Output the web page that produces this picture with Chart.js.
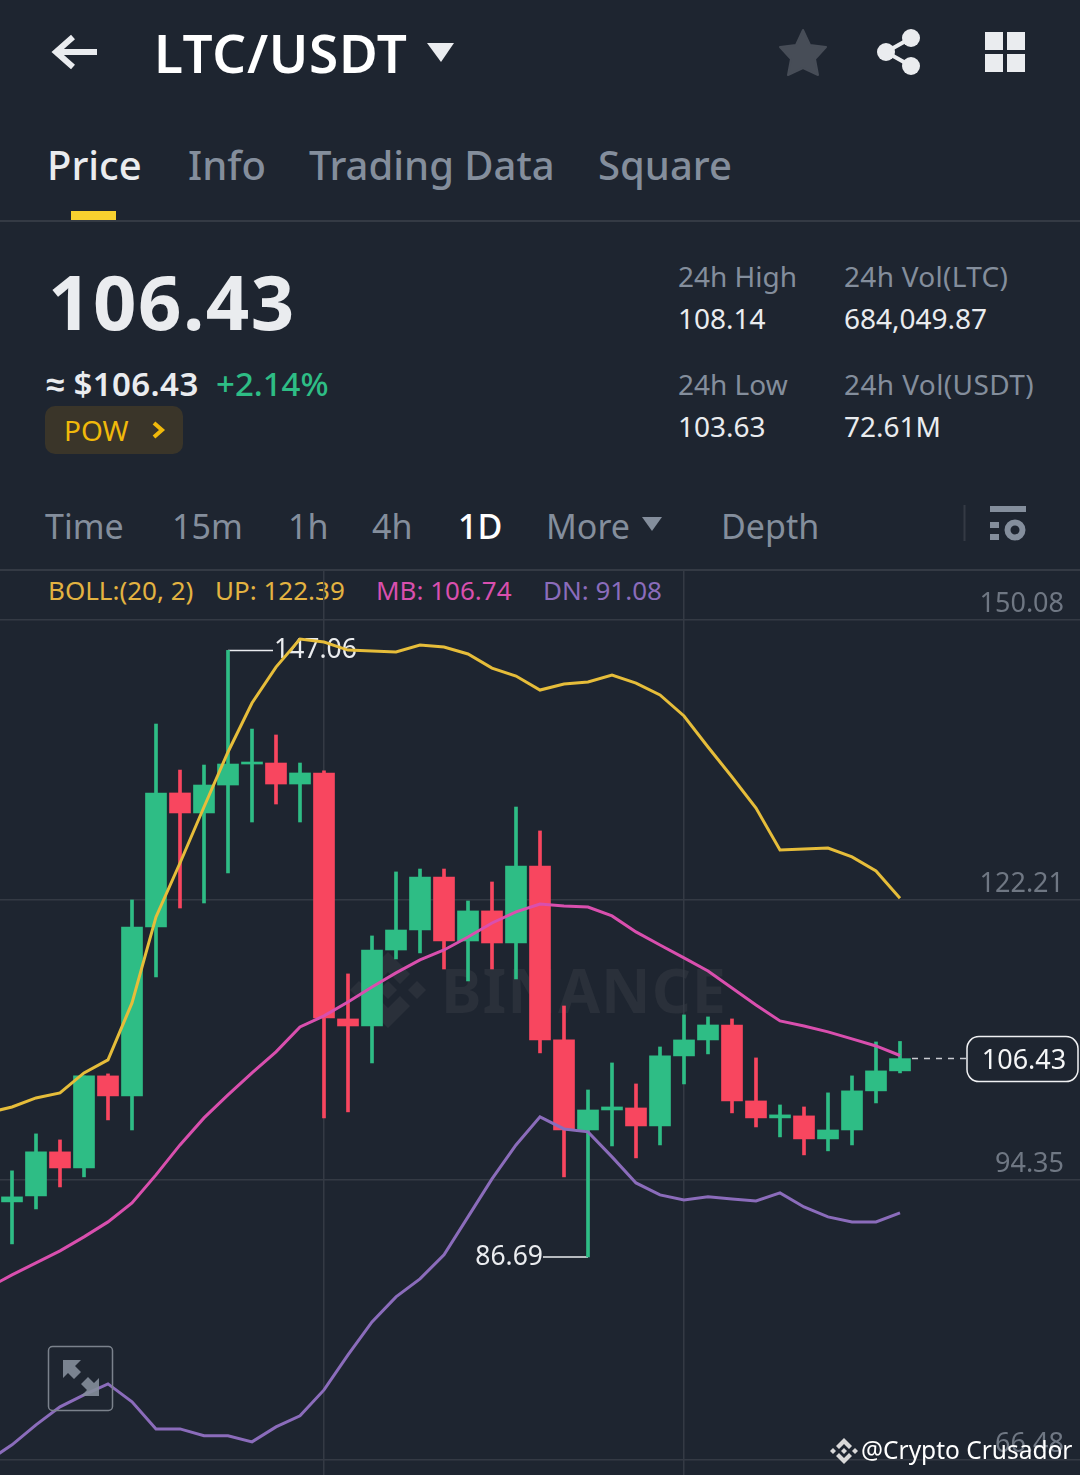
<!DOCTYPE html>
<html>
<head>
<meta charset="utf-8">
<script src="https://cdn.jsdelivr.net/npm/chart.js@4/dist/chart.umd.min.js"></script>
<style>
  html, body { margin: 0; padding: 0; background: #1e2530; }
  #page { position: relative; width: 1080px; height: 1475px; overflow: hidden; background: #1e2530; font-family: "Noto Sans", sans-serif; }
  .t { position: absolute; line-height: 1; white-space: nowrap; transform: translateY(-50%); }
  .rule { position: absolute; background: #343a44; }
  canvas { position: absolute; left: 0; top: 570px; z-index: 1; }
  svg { position: absolute; overflow: visible; }
  .over { z-index: 2; }
  .grey { color: #848e9c; }
  .light { color: #eaecef; }
</style>
</head>
<body>
<div id="page">
  <!-- top bar -->
  <svg style="left:0;top:0" width="1080" height="120">
    <path d="M97 52H58M73 37L56 52L73 67" fill="none" stroke="#eaecef" stroke-width="6"/>
    <path d="M427 43H454L441 62Z" fill="#eaecef"/>
    <path d="M803 30L810 45L826 47L815 59L818 75L803 68L788 75L791 59L780 47L796 45Z" fill="#474d57" stroke="#474d57" stroke-width="2" stroke-linejoin="round"/>
    <g fill="#eaecef"><circle cx="911" cy="38" r="9"/><circle cx="886" cy="52" r="9"/><circle cx="911" cy="66" r="9"/></g>
    <path d="M911 38L886 52L911 66" fill="none" stroke="#eaecef" stroke-width="4"/>
    <g fill="#eaecef"><rect x="985" y="32" width="18" height="18"/><rect x="1007" y="32" width="18" height="18"/><rect x="985" y="54" width="18" height="18"/><rect x="1007" y="54" width="18" height="18"/></g>
  </svg>
  <div class="t" style="left:154px;top:52px;font-size:53px;font-weight:600;letter-spacing:0.7px;color:#fff">LTC/USDT</div>

  <!-- tabs -->
  <div class="t light" style="left:47px;top:165px;font-size:40px;font-weight:500">Price</div>
  <div class="t grey" style="left:188px;top:165px;font-size:40px;font-weight:500">Info</div>
  <div class="t grey" style="left:309px;top:165px;font-size:40px;font-weight:500">Trading Data</div>
  <div class="t grey" style="left:598px;top:165px;font-size:40px;font-weight:500">Square</div>
  <div style="position:absolute;left:71px;top:211px;width:45px;height:9px;background:#f8d12f"></div>
  <div class="rule" style="left:0;top:220px;width:1080px;height:2px"></div>

  <!-- price block -->
  <div class="t light" style="left:48px;top:301px;font-size:76px;font-weight:700;letter-spacing:1.5px">106.43</div>
  <div class="t light" style="left:46px;top:383px;font-size:33px;font-weight:600;letter-spacing:0.4px">≈ $106.43</div>
  <div class="t" style="left:216px;top:383px;font-size:33px;font-weight:500;color:#2ebd85">+2.14%</div>
  <div style="position:absolute;left:45px;top:406px;width:138px;height:48px;border-radius:10px;background:#3a3529"></div>
  <div class="t" style="left:64px;top:430px;font-size:28px;color:#f0b90b">POW</div>
  <svg style="left:0;top:0" width="10" height="10"><path d="M154 423L162 430L154 437" fill="none" stroke="#f0b90b" stroke-width="4"/></svg>

  <div class="t grey" style="left:678px;top:276px;font-size:28px">24h High</div>
  <div class="t light" style="left:678px;top:318px;font-size:28px">108.14</div>
  <div class="t grey" style="left:844px;top:276px;font-size:28px;letter-spacing:0.3px">24h Vol(LTC)</div>
  <div class="t light" style="left:844px;top:318px;font-size:28px">684,049.87</div>
  <div class="t grey" style="left:678px;top:384px;font-size:28px">24h Low</div>
  <div class="t light" style="left:678px;top:426px;font-size:28px">103.63</div>
  <div class="t grey" style="left:844px;top:384px;font-size:28px;letter-spacing:0.4px">24h Vol(USDT)</div>
  <div class="t light" style="left:844px;top:426px;font-size:28px">72.61M</div>

  <!-- interval row -->
  <div class="t grey" style="left:45px;top:526px;font-size:34px">Time</div>
  <div class="t grey" style="left:172px;top:526px;font-size:34px">15m</div>
  <div class="t grey" style="left:288px;top:526px;font-size:34px">1h</div>
  <div class="t grey" style="left:372px;top:526px;font-size:34px">4h</div>
  <div class="t" style="left:458px;top:526px;font-size:34px;font-weight:500;color:#fff">1D</div>
  <div class="t grey" style="left:546px;top:526px;font-size:34px">More</div>
  <div class="t grey" style="left:721px;top:526px;font-size:34px">Depth</div>
  <svg style="left:0;top:0" width="10" height="10">
    <path d="M642 517H662L652 531Z" fill="#848e9c"/>
    <path d="M964.5 505V541" stroke="#343a44" stroke-width="2"/>
    <g fill="#848e9c"><rect x="990" y="506" width="36" height="6"/><rect x="990" y="522" width="9" height="6"/><rect x="990" y="534" width="9" height="6"/></g>
    <circle cx="1015" cy="530" r="7.5" fill="none" stroke="#848e9c" stroke-width="6"/>
  </svg>
  <div class="rule" style="left:0;top:569px;width:1080px;height:2px"></div>

  <!-- indicator legend -->
  <div class="t" style="left:48px;top:590px;font-size:26px;color:#e3b341">BOLL:(20, 2)</div>
  <div class="t" style="left:215px;top:590px;font-size:26px;color:#e3b341">UP: 122.39</div>
  <div class="t" style="left:376px;top:590px;font-size:26px;color:#d94fae">MB: 106.74</div>
  <div class="t" style="left:543px;top:590px;font-size:26px;color:#8b6cbb">DN: 91.08</div>

  <!-- faint watermark, sits behind the canvas -->
  <svg style="left:0;top:0" width="10" height="10">
    <g fill="#2a303a" transform="translate(388 990)">
      <path d="M0 -38L22 -16L12 -6L0 -18L-12 -6L-22 -16Z"/>
      <path d="M0 38L22 16L12 6L0 18L-12 6L-22 16Z"/>
      <path d="M0 -9L9 0L0 9L-9 0Z"/>
      <path d="M29 -9L38 0L29 9L20 0Z"/>
      <path d="M-29 -9L-20 0L-29 9L-38 0Z"/>
    </g>
  </svg>
  <div class="t" style="left:441px;top:989px;font-size:61px;font-weight:700;letter-spacing:1px;color:#2a303a">BINANCE</div>

  <canvas id="chart" width="1080" height="905"></canvas>

  <!-- expand button -->
  <svg class="over" style="left:0;top:0" width="10" height="10">
    <rect x="48.5" y="1346.5" width="64" height="64" rx="4" fill="none" stroke="#7b828c" stroke-width="1.5"/>
    <g fill="#848e9c" opacity="0.9">
      <path d="M63 1360H81L75 1366L81 1372L74 1379L68 1373L63 1378Z"/>
      <path d="M99 1396H81L87 1390L81 1384L88 1377L94 1383L99 1378Z"/>
    </g>
  </svg>

  <!-- author stamp -->
  <svg class="over" style="left:0;top:0" width="10" height="10">
    <g fill="#d8d8d8" transform="translate(844 1451)">
      <path d="M0 -13L8 -5L5 -2L0 -7L-5 -2L-8 -5Z"/>
      <path d="M0 13L8 5L5 2L0 7L-5 2L-8 5Z"/>
      <path d="M0 -3L3 0L0 3L-3 0Z"/>
      <path d="M11 -3L14 0L11 3L8 0Z"/>
      <path d="M-11 -3L-8 0L-11 3L-14 0Z"/>
    </g>
  </svg>
  <div class="t over" style="left:861px;top:1450px;font-size:24.5px;color:#fff">@Crypto Crusador</div>
</div>

<script>
const opens = [92.17, 92.77, 97.15, 95.55, 104.71, 102.72, 119.53, 132.87, 130.88, 133.66, 135.75, 135.85, 133.76, 134.86, 110.38, 109.68, 117.24, 119.23, 124.51, 118.14, 121.13, 117.94, 125.60, 108.29, 99.33, 101.32, 101.52, 99.73, 106.70, 108.29, 109.78, 102.22, 100.53, 100.73, 98.44, 99.33, 103.22, 105.21];
const closes = [92.67, 97.15, 95.55, 104.71, 102.72, 119.53, 132.87, 130.88, 133.66, 135.75, 135.95, 133.76, 134.86, 110.48, 109.68, 117.24, 119.23, 124.51, 118.14, 121.13, 117.94, 125.60, 108.29, 99.33, 101.32, 101.62, 99.73, 106.70, 108.29, 109.78, 102.22, 100.53, 100.83, 98.44, 99.33, 103.22, 105.21, 106.43];
const highs = [95.26, 98.94, 98.34, 104.71, 104.91, 122.22, 139.73, 135.15, 135.65, 147.06, 139.23, 138.64, 135.85, 135.06, 114.86, 118.64, 125.01, 125.30, 125.30, 122.12, 124.01, 131.47, 129.09, 111.67, 103.31, 106.00, 103.91, 107.59, 110.78, 110.58, 110.38, 106.50, 101.82, 101.62, 103.02, 104.71, 108.09, 108.14];
const lows = [87.99, 91.47, 93.66, 94.66, 100.33, 99.33, 114.56, 121.42, 121.92, 124.91, 129.98, 131.77, 129.98, 100.53, 101.13, 106.00, 116.35, 116.95, 115.35, 114.16, 115.35, 114.36, 107.00, 94.66, 86.69, 97.74, 96.55, 97.84, 103.91, 106.90, 101.03, 99.63, 98.64, 96.85, 97.25, 97.84, 102.02, 105.01];

// bands start one day before the first visible candle, so they run off the left edge
const upperBand = [101.03, 101.62, 102.52, 103.02, 105.01, 106.30, 111.97, 120.53, 125.90, 131.47, 136.95, 141.82, 145.40, 148.19, 147.89, 147.09, 147.00, 146.90, 147.59, 147.39, 146.70, 145.30, 144.51, 143.11, 143.71, 143.91, 144.61, 143.81, 142.62, 140.53, 137.44, 134.46, 131.37, 127.19, 127.29, 127.39, 126.50, 125.11, 122.39];
const middleBand = [83.61, 84.91, 86.10, 87.30, 88.69, 90.18, 92.07, 94.86, 97.84, 100.53, 102.82, 105.01, 107.10, 109.58, 110.68, 112.07, 113.56, 114.96, 116.25, 117.24, 118.54, 119.93, 121.03, 121.82, 121.62, 121.52, 120.63, 119.04, 117.74, 116.45, 115.16, 113.46, 111.77, 110.18, 109.68, 109.09, 108.39, 107.69, 106.74];
const lowerBand = [66.40, 67.99, 69.98, 71.77, 72.97, 74.06, 72.27, 69.58, 69.58, 68.89, 68.89, 68.29, 69.78, 70.88, 73.46, 76.95, 80.23, 82.72, 84.51, 86.90, 90.68, 94.46, 97.84, 100.63, 99.43, 99.14, 96.65, 94.06, 92.87, 92.37, 92.67, 92.47, 92.27, 93.07, 91.67, 90.68, 90.18, 90.18, 91.08];

const priceTicks = [150.08, 122.21, 94.35, 66.48];
const dayTicks = [13, 28];
const lastPrice = 106.43;
const highMark = { day: 9, price: 147.06 };
const lowMark = { day: 24, price: 86.69 };

const GREEN = '#2ebd85';
const RED = '#f8465f';
const AXIS_GREY = '#6f7783';
const FONT = '"Noto Sans", sans-serif';

const candleColors = closes.map((c, i) => (c >= opens[i] ? GREEN : RED));
const wicks = highs.map((h, i) => ({ x: i, y: [lows[i], h] }));
const bodies = opens.map((o, i) => ({ x: i, y: [o, closes[i]] }));
const bandPoints = (band) => band.map((v, i) => ({ x: i - 1, y: v }));

const lineDataset = (label, band, color) => ({
  type: 'line',
  label: label,
  data: bandPoints(band),
  borderColor: color,
  borderWidth: 3,
  pointRadius: 0,
  tension: 0,
  order: 0
});

// labels that go under the lines: axis prices and the high/low markers
const labelsPlugin = {
  id: 'labels',
  beforeDatasetsDraw(chart) {
    const { ctx, scales } = chart;
    ctx.save();
    ctx.textBaseline = 'middle';

    ctx.font = '27px ' + FONT;
    ctx.fillStyle = AXIS_GREY;
    ctx.textAlign = 'right';
    priceTicks.forEach((p) => {
      ctx.fillText(p.toFixed(2), 1064, scales.y.getPixelForValue(p) - 16);
    });

    ctx.font = '26.5px ' + FONT;
    ctx.fillStyle = '#eaecef';
    ctx.strokeStyle = '#eaecef';
    ctx.lineWidth = 1.5;

    const hx = scales.x.getPixelForValue(highMark.day);
    const hy = scales.y.getPixelForValue(highMark.price);
    ctx.beginPath();
    ctx.moveTo(hx, hy);
    ctx.lineTo(hx + 45, hy);
    ctx.stroke();
    ctx.textAlign = 'left';
    ctx.fillText(highMark.price.toFixed(2), hx + 46, hy);

    const lx = scales.x.getPixelForValue(lowMark.day);
    const ly = scales.y.getPixelForValue(lowMark.price);
    ctx.beginPath();
    ctx.moveTo(lx, ly);
    ctx.lineTo(lx - 45, ly);
    ctx.stroke();
    ctx.textAlign = 'right';
    ctx.fillText(lowMark.price.toFixed(2), lx - 45, ly);
    ctx.restore();
  },
  afterDatasetsDraw(chart) {
    const { ctx, scales } = chart;
    const y = scales.y.getPixelForValue(lastPrice);
    ctx.save();
    ctx.strokeStyle = '#c9ccd1';
    ctx.lineWidth = 1.5;
    ctx.setLineDash([6, 6]);
    ctx.beginPath();
    ctx.moveTo(scales.x.getPixelForValue(closes.length - 1) + 12, y);
    ctx.lineTo(966, y);
    ctx.stroke();
    ctx.setLineDash([]);

    ctx.fillStyle = '#1e2530';
    ctx.strokeStyle = '#f0f1f3';
    ctx.beginPath();
    ctx.roundRect(967, y - 22, 111, 45, 12);
    ctx.fill();
    ctx.stroke();
    ctx.font = '27px ' + FONT;
    ctx.fillStyle = '#f5f6f7';
    ctx.textAlign = 'center';
    ctx.textBaseline = 'middle';
    ctx.fillText(lastPrice.toFixed(2), 1024, y + 3);
    ctx.restore();
  }
};

new Chart(document.getElementById('chart'), {
  type: 'bar',
  data: {
    datasets: [
      { label: 'Wick', data: wicks, backgroundColor: candleColors, barThickness: 3, grouped: false, order: 2 },
      { label: 'Body', data: bodies, backgroundColor: candleColors, barThickness: 21, grouped: false, order: 1 },
      lineDataset('UP', upperBand, '#e6bd3a'),
      lineDataset('MB', middleBand, '#d94fae'),
      lineDataset('DN', lowerBand, '#8b6cbb')
    ]
  },
  options: {
    responsive: false,
    animation: false,
    devicePixelRatio: 1,
    events: [],
    layout: { padding: 0 },
    plugins: { legend: { display: false }, tooltip: { enabled: false } },
    scales: {
      x: {
        type: 'linear',
        min: -0.5,
        max: 44.5,
        offset: false,
        afterBuildTicks: (scale) => { scale.ticks = dayTicks.map((v) => ({ value: v })); },
        ticks: { display: false },
        grid: { color: '#343a44', lineWidth: 1.5, drawTicks: false, offset: false },
        border: { display: false }
      },
      y: {
        type: 'linear',
        min: 64.99,
        max: 155.06,
        afterBuildTicks: (scale) => { scale.ticks = priceTicks.map((v) => ({ value: v })); },
        ticks: { display: false },
        grid: { color: '#343a44', lineWidth: 1.5, drawTicks: false },
        border: { display: false }
      }
    }
  },
  plugins: [labelsPlugin]
});
</script>
</body>
</html>
